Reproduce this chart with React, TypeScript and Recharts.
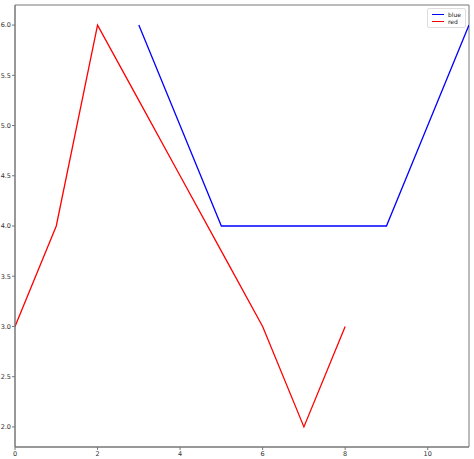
import React from "react";
import { LineChart, Line, XAxis, YAxis, ReferenceArea } from "recharts";

const xValues = [0, 1, 2, 3, 4, 5, 6, 7, 8, 9, 10, 11];
const blueValues: (number | null)[] = [null, null, null, 6, 5, 4, 4, 4, 4, 4, 5, 6];
const redValues: (number | null)[] = [3, 4, 6, 5.25, 4.5, 3.75, 3, 2, 3, null, null, null];
const xTicks = [0, 2, 4, 6, 8, 10];
const yTicks = [2.0, 2.5, 3.0, 3.5, 4.0, 4.5, 5.0, 5.5, 6.0];
const seriesNames = ["blue", "red"];
const seriesColors = ["blue", "red"];

const data = xValues.map((x, i) => ({ x, blue: blueValues[i], red: redValues[i] }));

const font = "DejaVu Sans, sans-serif";
const axisColor = "#777";

const LegendBox = () => (
  <div
    style={{
      position: "absolute",
      top: 8,
      right: 8,
      background: "#fff",
      border: "1px solid #ddd",
      borderRadius: 2,
      padding: "2px 4px",
      fontFamily: font,
      fontSize: 6,
      color: "#222",
      lineHeight: "7px",
    }}
  >
    {seriesNames.map((name, i) => (
      <div key={name} style={{ display: "flex", alignItems: "center" }}>
        <span style={{ display: "inline-block", width: 12, height: 1.2, background: seriesColors[i], marginRight: 4 }} />
        <span>{name}</span>
      </div>
    ))}
  </div>
);

export default function App() {
  return (
    <div style={{ position: "absolute", left: 0, top: 0, width: 474, height: 459, background: "#fff" }}>
      <LineChart width={474} height={459} data={data} margin={{ top: 5, right: 5, bottom: 0, left: 0 }}>
        <XAxis
          dataKey="x"
          type="number"
          domain={[0, 11]}
          ticks={xTicks}
          height={12}
          tickSize={3}
          tickMargin={1}
          axisLine={{ stroke: axisColor }}
          tickLine={{ stroke: axisColor }}
          tick={{ fontSize: 6.5, fontFamily: font, fill: "#333" }}
          allowDataOverflow
        />
        <YAxis
          type="number"
          domain={[1.8, 6.2]}
          ticks={yTicks}
          width={15}
          tickSize={3}
          tickMargin={1}
          tickFormatter={(v: number) => v.toFixed(1)}
          axisLine={{ stroke: axisColor }}
          tickLine={{ stroke: axisColor }}
          tick={{ fontSize: 6.5, fontFamily: font, fill: "#333" }}
          allowDataOverflow
        />
        <ReferenceArea x1={0} x2={11} y1={1.8} y2={6.2} fill="none" stroke={axisColor} strokeWidth={1} ifOverflow="visible" />
        <Line dataKey="blue" stroke="blue" strokeWidth={1.3} dot={false} isAnimationActive={false} connectNulls={false} />
        <Line dataKey="red" stroke="red" strokeWidth={1.3} dot={false} isAnimationActive={false} connectNulls={false} />
      </LineChart>
      <LegendBox />
    </div>
  );
}
